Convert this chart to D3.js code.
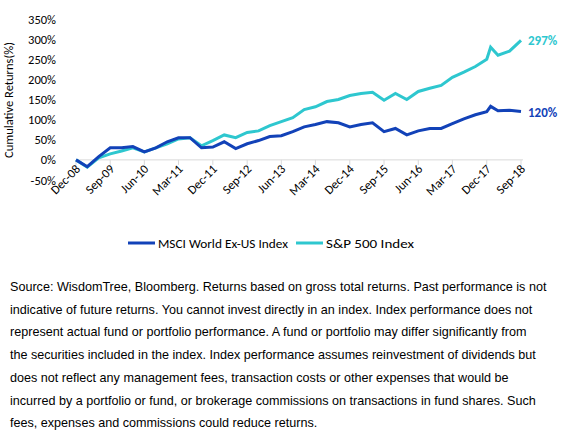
<!DOCTYPE html><html><head><script src="https://cdn.jsdelivr.net/npm/d3@7"></script>
<style>body{margin:0;background:#fff}</style></head><body><svg id="c" width="564" height="432"></svg><script>
const dates=["2008-12","2009-03","2009-06","2009-09","2009-12","2010-03","2010-06","2010-09","2010-12","2011-03","2011-06","2011-09","2011-12","2012-03","2012-06","2012-09","2012-12","2013-03","2013-06","2013-09","2013-12","2014-03","2014-06","2014-09","2014-12","2015-03","2015-06","2015-09","2015-12","2016-03","2016-06","2016-09","2016-12","2017-03","2017-06","2017-09","2017-12","2018-01","2018-03","2018-06","2018-09"];
const msci=[0,-17,8,30,30,33,20,30,45,55,55,30,32,45,28,40,48,58,60,70,82,88,95,92,82,88,92,70,78,62,72,78,78,90,102,112,120,133,122,123,120];
const spx=[0,-18,5,15,22,30,20,30,40,52,55,35,48,62,55,68,72,85,95,105,125,132,145,150,160,165,168,148,165,150,170,178,185,205,218,232,250,280,260,270,297];
const tickLabels=["Dec-08","Sep-09","Jun-10","Mar-11","Dec-11","Sep-12","Jun-13","Mar-14","Dec-14","Sep-15","Jun-16","Mar-17","Dec-17","Sep-18"];
const yTicks=[-50,0,50,100,150,200,250,300,350];
const note=["Source: WisdomTree, Bloomberg. Returns based on gross total returns. Past performance is not","indicative of future returns. You cannot invest directly in an index. Index performance does not","represent actual fund or portfolio performance. A fund or portfolio may differ significantly from","the securities included in the index. Index performance assumes reinvestment of dividends but","does not reflect any management fees, transaction costs or other expenses that would be","incurred by a portfolio or fund, or brokerage commissions on transactions in fund shares. Such","fees, expenses and commissions could reduce returns."];
const P=d3.timeParse("%Y-%m"), svg=d3.select("#c"), F="Calibri, Carlito, 'Liberation Sans', sans-serif";
const x=d3.scaleTime().domain([P("2008-12"),P("2018-09")]).range([76,521]);
const y=d3.scaleLinear().domain([-50,350]).range([180,19]);
svg.append("g").selectAll("text").data(yTicks).join("text").attr("x",56).attr("y",d=>y(d)+4.5).attr("text-anchor","end").attr("font-family",F).attr("font-size",12.5).attr("fill","#000").text(d=>d+"%");
svg.append("text").attr("transform","translate(13,100) rotate(-90)").attr("text-anchor","middle").attr("font-family",F).attr("font-size",12.5).text("Cumulative Returns(%)");
svg.append("line").attr("x1",76).attr("x2",523).attr("y1",y(0)).attr("y2",y(0)).attr("stroke","#d9d9d9");
const tks=tickLabels.map(t=>d3.timeParse("%b-%y")(t));
svg.append("g").selectAll("line").data(tks).join("line").attr("x1",d=>x(d)).attr("x2",d=>x(d)).attr("y1",y(0)).attr("y2",y(0)+5).attr("stroke","#d9d9d9");
svg.append("g").selectAll("text").data(tickLabels).join("text").attr("transform",(d,i)=>`translate(${x(tks[i])+5},${y(0)+10}) rotate(-45)`).attr("text-anchor","end").attr("font-family",F).attr("font-size",12.5).text(d=>d);
const ln=d3.line().x((d,i)=>x(P(dates[i]))).y(d=>y(d));
svg.append("path").datum(spx).attr("d",ln).attr("fill","none").attr("stroke","#2ec7cf").attr("stroke-width",3);
svg.append("path").datum(msci).attr("d",ln).attr("fill","none").attr("stroke","#1242b8").attr("stroke-width",3);
svg.append("text").attr("x",528).attr("y",y(297)+5).attr("font-family",F).attr("font-size",13).attr("font-weight","bold").attr("fill","#2ec7cf").text("297%");
svg.append("text").attr("x",528).attr("y",y(120)+5).attr("font-family",F).attr("font-size",13).attr("font-weight","bold").attr("fill","#1242b8").text("120%");
const lg=[["MSCI World Ex-US Index","#1242b8",128,130],["S&P 500 Index","#2ec7cf",296,88]];
lg.forEach(([t,c,lx,w])=>{svg.append("line").attr("x1",lx).attr("x2",lx+27).attr("y1",243).attr("y2",243).attr("stroke",c).attr("stroke-width",3);
svg.append("text").attr("x",lx+30).attr("y",247.5).attr("font-family",F).attr("font-size",12.5).attr("textLength",w).attr("lengthAdjust","spacingAndGlyphs").text(t);});
svg.append("g").selectAll("text").data(note).join("text").attr("x",10).attr("y",(d,i)=>291+i*22.7).attr("font-family","'Liberation Sans', Arial, sans-serif").attr("font-size",12.6).text(d=>d);
</script></body></html>
